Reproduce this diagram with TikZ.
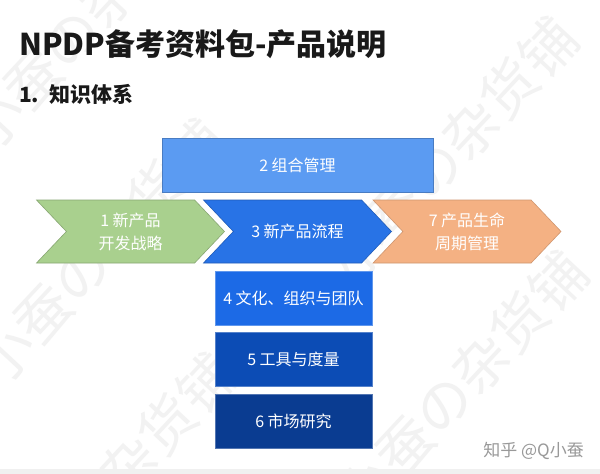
\documentclass[tikz,border=0pt]{standalone}
\usepackage{fontspec}
\setmainfont{Noto Sans CJK SC}
\usetikzlibrary{shapes.symbols, positioning}
\definecolor{chevgreen}{RGB}{169,208,142}
\definecolor{chevblue}{RGB}{40,115,230}
\definecolor{chevorange}{RGB}{244,177,131}
\definecolor{portblue}{RGB}{91,155,242}
\definecolor{deepblue1}{RGB}{28,106,230}
\definecolor{deepblue2}{RGB}{12,76,181}
\definecolor{deepblue3}{RGB}{10,60,145}
\definecolor{markgray}{RGB}{242,242,242}

\begin{document}
\begin{tikzpicture}[x=1pt, y=-1pt,
    chev/.style={signal, signal from=west, signal to=east, signal pointer angle=93, minimum width=188pt, minimum height=63pt, inner sep=0pt, line width=0.6pt, text=white, align=center, font=\fontsize{16}{23}\selectfont},
    stage/.style={rectangle, minimum width=157pt, minimum height=54pt, inner sep=0pt, line width=0.6pt, text=white, font=\fontsize{16}{20}\selectfont},
    wmark/.style={text=markgray, rotate=47, inner sep=0pt, font=\fontsize{56}{56}\selectfont}]
        \useasboundingbox (0,0) rectangle (600,474);
        \fill[white] (0,0) rectangle (600,474);
        \clip (0,0) rectangle (600,474);
        
        % watermark
        \node[wmark] (wm1) at (452,150) {小蚕の杂货铺};
        \node[wmark] (wm2) at (462,384) {小蚕の杂货铺};
        \node[wmark] (wm3) at (100,252) {小蚕の杂货铺};
        \node[wmark] (wm4) at (110,486) {小蚕の杂货铺};
        \node[wmark] (wm5) at (90,18) {小蚕の杂货铺};
        \fill[black!6] (0,469) rectangle (600,474);
        
        \node[anchor=base west, inner sep=0pt, text=black!90, font=\fontsize{30}{30}\selectfont\bfseries] (title) at (19,55) {NPDP备考资料包-产品说明};
        \node[anchor=base west, inner sep=0pt, text=black!90, font=\fontsize{21}{21}\selectfont\bfseries] (topic) at (19,102) {1.\enspace 知识体系};
        
        \node[stage, fill=portblue, draw=portblue!80!black, minimum width=271pt] (portfolio) at (297.5,165) {2 组合管理};
        
        \node[chev, fill=chevgreen, draw=chevgreen!80!black] (strategy) at (130.5,231.5) {1 新产品\\开发战略};
        \node[chev, fill=chevblue, draw=chevblue!80!black] (process) at (297.5,231.5) {3 新产品流程};
        \node[chev, fill=chevorange, draw=chevorange!85!black] (lifecycle) at (467,231.5) {7 产品生命\\周期管理};
        
        \node[stage, fill=deepblue1, draw=deepblue1!70!white] (culture) at (293.5,298) {4 文化、组织与团队};
        \node[stage, fill=deepblue2, draw=deepblue2!70!white, below=7pt of culture] (tools) {5 工具与度量};
        \node[stage, fill=deepblue3, draw=deepblue3!70!white, below=7pt of tools] (market) {6 市场研究};
        
        \node[anchor=base east, inner sep=0pt, text=black!40, font=\fontsize{17}{17}\selectfont] (credit) at (584,456) {知乎 @Q小蚕};
    \end{tikzpicture}
\end{document}
